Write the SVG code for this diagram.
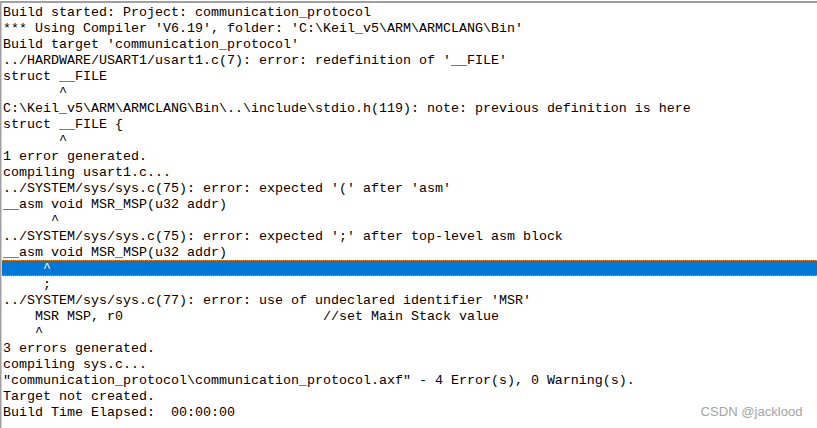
<svg xmlns="http://www.w3.org/2000/svg" width="817" height="428" viewBox="0 0 817 428">
<style>
.t{font-family:"Liberation Mono","Courier New",monospace;font-size:13.33px;fill:#000;white-space:pre}
.w{fill:#fff}
.m{font-family:"Liberation Sans",Arial,sans-serif;font-size:13.1px;fill:#a3a3a3}
</style>
<rect width="817" height="428" fill="#fff"/>
<rect x="0" y="1" width="817" height="2" fill="#a0a0a0"/>
<rect x="0" y="1" width="1.5" height="427" fill="#a0a0a0"/>
<g id="highlight">
<rect x="2" y="260" width="815" height="16" fill="#0078d7"/>
<line x1="2" y1="260.5" x2="817" y2="260.5" stroke="#f08a24" stroke-dasharray="1 1"/>
<line x1="2" y1="275.5" x2="817" y2="275.5" stroke="#f08a24" stroke-dasharray="1 1"/>
</g>
<g id="log">
<text class="t" x="3" y="16">Build started: Project: communication_protocol</text>
<text class="t" x="3" y="32">*** Using Compiler 'V6.19', folder: 'C:\Keil_v5\ARM\ARMCLANG\Bin'</text>
<text class="t" x="3" y="48">Build target 'communication_protocol'</text>
<text class="t" x="3" y="64">../HARDWARE/USART1/usart1.c(7): error: redefinition of '__FILE'</text>
<text class="t" x="3" y="80">struct __FILE</text>
<text class="t" x="3" y="96">       ^</text>
<text class="t" x="3" y="112">C:\Keil_v5\ARM\ARMCLANG\Bin\..\include\stdio.h(119): note: previous definition is here</text>
<text class="t" x="3" y="128">struct __FILE {</text>
<text class="t" x="3" y="144">       ^</text>
<text class="t" x="3" y="160">1 error generated.</text>
<text class="t" x="3" y="176">compiling usart1.c...</text>
<text class="t" x="3" y="192">../SYSTEM/sys/sys.c(75): error: expected '(' after 'asm'</text>
<text class="t" x="3" y="208">__asm void MSR_MSP(u32 addr)</text>
<text class="t" x="3" y="224">      ^</text>
<text class="t" x="3" y="240">../SYSTEM/sys/sys.c(75): error: expected ';' after top-level asm block</text>
<text class="t" x="3" y="256">__asm void MSR_MSP(u32 addr)</text>
<text class="t w" x="3" y="272">     ^</text>
<text class="t" x="3" y="288">     ;</text>
<text class="t" x="3" y="304">../SYSTEM/sys/sys.c(77): error: use of undeclared identifier 'MSR'</text>
<text class="t" x="3" y="320">    MSR MSP, r0                         //set Main Stack value</text>
<text class="t" x="3" y="336">    ^</text>
<text class="t" x="3" y="352">3 errors generated.</text>
<text class="t" x="3" y="368">compiling sys.c...</text>
<text class="t" x="3" y="384">"communication_protocol\communication_protocol.axf" - 4 Error(s), 0 Warning(s).</text>
<text class="t" x="3" y="400">Target not created.</text>
<text class="t" x="3" y="416">Build Time Elapsed:  00:00:00</text>
</g>
<text class="m" x="700.5" y="416">CSDN @jacklood</text>
</svg>
